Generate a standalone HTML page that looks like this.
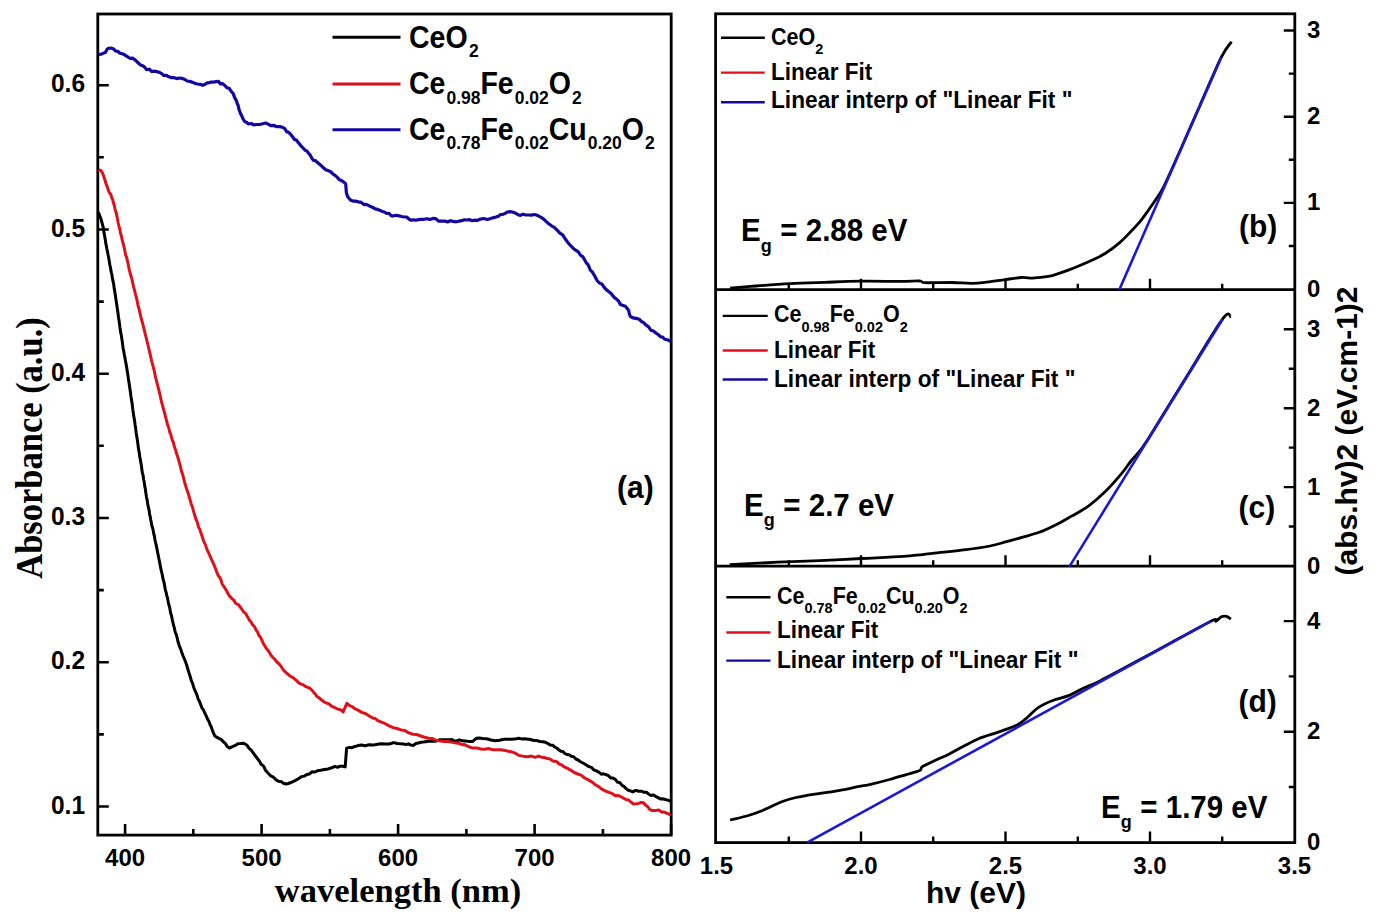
<!DOCTYPE html>
<html><head><meta charset="utf-8"><style>
html,body{margin:0;padding:0;background:#fff;width:1386px;height:915px;overflow:hidden}
svg{display:block}
text{fill:#000}
</style></head><body>
<svg width="1386" height="915" viewBox="0 0 1386 915">
<rect width="1386" height="915" fill="#fff"/>
<path d="M125.1,835.1 V824.1 M193.3,835.1 V829.1 M261.6,835.1 V824.1 M329.9,835.1 V829.1 M398.1,835.1 V824.1 M466.4,835.1 V829.1 M534.6,835.1 V824.1 M602.9,835.1 V829.1 M671.1,835.1 V824.1 M97.8,806.5 H108.8 M97.8,734.4 H103.8 M97.8,662.2 H108.8 M97.8,590.1 H103.8 M97.8,518.0 H108.8 M97.8,445.8 H103.8 M97.8,373.7 H108.8 M97.8,301.6 H103.8 M97.8,229.5 H108.8 M97.8,157.3 H103.8 M97.8,85.2 H108.8" stroke="#000" stroke-width="2.6" fill="none"/>
<rect x="97.8" y="14.0" width="573.4000000000001" height="821.1" fill="none" stroke="#000" stroke-width="2.8"/>
<path d="M97.8,212.0 L99.1,213.9 L100.2,216.9 L101.0,219.1 L101.9,222.4 L102.7,225.5 L103.3,227.6 L103.7,230.2 L104.1,233.7 L104.6,235.7 L105.3,239.8 L105.8,243.6 L106.3,245.5 L106.9,249.1 L107.5,251.6 L108.1,255.1 L108.7,257.5 L109.3,261.5 L109.9,265.0 L110.4,267.3 L110.9,270.4 L111.4,272.9 L111.9,274.4 L112.3,277.9 L112.8,280.1 L113.2,282.2 L113.7,284.4 L114.2,288.6 L114.7,291.1 L115.3,295.0 L115.9,299.1 L116.5,303.0 L117.2,307.9 L117.8,311.8 L118.5,317.3 L119.2,321.6 L119.9,327.3 L120.6,331.9 L121.3,335.2 L121.9,339.4 L122.5,343.4 L123.1,348.3 L123.7,350.9 L124.3,354.6 L124.9,357.4 L125.5,361.0 L126.1,364.1 L126.7,367.5 L127.3,371.4 L127.9,375.1 L128.5,379.6 L129.1,383.3 L129.8,387.9 L130.4,392.1 L131.0,396.7 L131.6,400.5 L132.2,404.0 L132.8,409.4 L133.4,413.7 L134.0,417.5 L134.6,420.9 L135.1,424.9 L135.6,427.7 L136.1,432.4 L136.6,435.5 L137.1,438.6 L137.6,441.7 L138.2,446.5 L138.7,450.1 L139.2,452.1 L139.7,456.7 L140.3,459.4 L140.8,462.3 L141.4,465.7 L141.9,469.7 L142.4,473.1 L143.0,475.0 L143.6,479.2 L144.1,481.5 L144.7,485.9 L145.3,488.8 L145.9,493.3 L146.5,497.1 L147.2,500.1 L147.8,504.6 L148.4,507.2 L149.1,510.3 L149.6,514.4 L150.2,516.5 L150.7,519.5 L151.2,522.1 L151.9,525.9 L152.5,527.6 L153.1,530.0 L153.9,534.6 L154.4,535.9 L154.9,539.5 L155.5,542.3 L156.1,544.6 L156.8,548.1 L157.5,551.6 L158.2,555.3 L158.9,558.8 L159.6,562.3 L160.3,565.8 L161.0,569.7 L161.7,572.3 L162.4,575.5 L163.1,579.3 L163.9,581.9 L164.6,585.4 L165.3,589.8 L166.1,592.3 L166.8,595.6 L167.5,597.9 L168.2,601.7 L168.9,605.0 L169.6,607.1 L170.3,611.1 L170.9,614.1 L171.6,616.1 L172.3,619.8 L172.9,622.3 L173.5,625.3 L174.2,627.3 L174.8,630.3 L175.4,632.7 L176.0,633.7 L177.1,637.7 L178.2,642.3 L179.4,646.2 L180.5,648.5 L181.7,652.2 L182.9,655.6 L184.1,658.2 L185.3,661.3 L186.4,664.3 L187.4,667.5 L188.4,671.0 L189.3,673.7 L190.3,677.0 L191.3,680.7 L192.4,682.8 L193.6,686.9 L194.9,690.4 L196.1,692.9 L197.2,695.7 L198.2,699.2 L199.1,700.6 L200.0,702.7 L201.0,705.4 L202.1,708.2 L203.4,709.9 L204.8,713.0 L206.2,715.8 L207.7,719.4 L209.0,721.5 L210.2,725.0 L211.3,727.0 L212.4,730.2 L213.6,733.4 L214.9,736.0 L216.4,737.0 L218.9,738.4 L221.3,739.6 L223.5,742.0 L225.4,743.4 L227.1,746.4 L229.2,748.0 L231.7,747.0 L234.2,745.8 L235.9,745.1 L237.8,743.7 L240.7,743.6 L243.0,743.3 L245.5,744.1 L247.3,745.7 L249.1,748.4 L251.0,749.9 L253.0,752.6 L255.1,755.5 L257.4,758.5 L259.9,761.9 L261.2,764.5 L262.5,765.1 L263.9,766.7 L265.3,769.9 L268.0,773.0 L270.6,775.8 L273.4,777.2 L276.1,779.9 L278.8,781.5 L281.3,781.6 L283.4,783.3 L286.0,784.0 L288.3,783.5 L291.1,782.5 L293.5,781.3 L296.1,780.1 L298.8,778.4 L301.6,776.6 L304.3,776.1 L306.9,774.5 L309.3,774.1 L311.8,771.8 L314.5,772.1 L317.4,770.8 L320.7,770.3 L324.4,769.5 L328.2,768.9 L331.8,767.8 L334.9,766.4 L337.6,767.3 L340.0,766.2 L343.1,766.3 L345.2,766.9 L346.6,748.2 L349.4,747.4 L351.9,747.7 L354.9,746.5 L358.1,745.6 L361.4,745.0 L365.1,745.7 L369.1,744.8 L373.3,745.1 L377.4,744.2 L381.4,743.7 L385.5,743.9 L389.6,744.0 L393.6,742.6 L397.3,743.5 L400.6,743.8 L403.4,744.0 L406.0,744.6 L408.4,743.8 L410.9,745.1 L413.5,745.4 L415.9,743.5 L418.3,743.1 L420.9,742.3 L423.7,742.0 L427.0,741.4 L430.9,741.1 L435.2,741.3 L439.4,739.8 L443.3,739.8 L446.6,739.7 L449.4,739.7 L452.0,739.5 L454.4,741.0 L456.8,740.9 L459.4,739.8 L462.2,740.8 L465.1,741.0 L467.7,741.3 L470.2,741.5 L472.7,741.5 L474.5,739.7 L476.6,738.3 L479.2,737.9 L482.7,738.5 L486.7,738.7 L491.0,740.0 L495.3,740.7 L499.5,740.2 L503.9,739.3 L506.1,739.2 L508.4,739.2 L510.6,739.3 L514.8,739.1 L518.5,738.2 L521.6,738.9 L524.2,738.8 L526.5,738.9 L528.8,739.2 L531.3,739.8 L534.1,740.5 L537.0,740.6 L540.0,741.5 L542.8,741.8 L545.5,742.2 L548.0,743.6 L550.3,745.0 L552.6,745.2 L554.8,747.0 L556.9,748.2 L559.0,750.0 L560.9,751.3 L562.9,751.5 L564.8,753.5 L566.9,754.5 L569.1,754.7 L571.3,756.2 L573.6,756.7 L575.9,759.0 L578.2,760.0 L580.5,761.7 L582.9,763.0 L585.2,764.3 L587.5,765.8 L589.6,766.9 L591.4,767.4 L593.9,770.0 L596.3,770.7 L599.1,772.4 L601.3,774.2 L603.6,773.8 L606.0,774.6 L608.3,775.5 L610.6,777.9 L613.0,778.1 L615.3,779.4 L617.6,782.2 L619.8,782.6 L622.0,785.2 L624.0,786.5 L625.9,788.4 L627.9,790.1 L629.8,790.7 L632.8,791.9 L635.7,790.4 L638.7,791.3 L641.9,791.3 L644.1,792.3 L646.4,792.2 L648.7,794.2 L651.0,795.5 L653.3,794.9 L655.6,796.3 L658.1,797.6 L660.4,798.9 L662.5,798.8 L665.3,799.5 L667.8,800.1 L670.2,801.0 L670.6,800.9" stroke="#000" stroke-width="3.0" fill="none" stroke-linejoin="round"/>
<path d="M98.5,169.6 L100.8,170.4 L102.3,172.7 L103.4,175.3 L104.5,178.8 L105.4,181.5 L106.4,185.0 L107.3,186.6 L108.1,189.6 L109.2,192.4 L110.7,194.3 L111.8,197.9 L112.6,199.3 L113.5,203.0 L114.5,206.4 L115.1,209.1 L115.7,211.5 L116.3,213.1 L116.9,216.1 L117.5,219.0 L118.2,223.0 L118.9,225.9 L119.6,228.3 L120.4,232.8 L121.3,235.5 L122.2,240.2 L123.2,243.6 L124.3,248.0 L125.5,254.2 L126.8,258.2 L128.0,263.4 L129.3,269.9 L130.7,275.0 L132.0,279.4 L133.3,285.7 L134.5,290.1 L135.7,295.2 L136.8,299.1 L137.9,304.9 L139.1,309.1 L140.2,314.2 L141.3,318.8 L142.5,322.8 L143.8,328.2 L145.1,333.5 L146.6,339.4 L148.2,346.0 L150.0,353.7 L151.9,362.1 L153.9,369.3 L155.9,378.7 L157.9,386.4 L159.9,394.4 L161.7,402.7 L163.5,409.0 L165.0,414.7 L166.4,420.1 L167.6,424.8 L168.7,427.5 L169.7,432.3 L170.6,433.7 L171.6,437.8 L172.5,440.7 L173.4,442.3 L174.4,446.8 L175.5,449.7 L176.7,454.0 L177.8,457.1 L179.0,461.4 L180.3,465.9 L181.5,471.4 L182.7,474.5 L184.0,479.8 L185.2,484.3 L186.5,488.5 L187.7,491.7 L188.9,495.7 L190.1,499.9 L191.3,504.2 L192.5,507.1 L193.7,511.9 L194.9,515.8 L196.1,519.7 L197.3,522.2 L198.6,527.3 L199.9,529.6 L201.2,533.7 L202.6,537.8 L204.0,541.9 L205.4,544.6 L206.8,549.1 L208.2,552.0 L209.6,555.1 L211.1,558.5 L212.5,561.6 L213.9,564.6 L215.3,567.9 L216.7,571.8 L218.1,575.4 L219.5,577.0 L220.9,579.7 L222.2,584.0 L223.6,586.0 L225.1,588.4 L226.5,590.6 L227.9,593.5 L229.4,596.0 L230.9,597.3 L232.4,599.1 L234.0,600.3 L235.5,603.2 L238.6,604.9 L241.3,608.5 L243.7,612.0 L245.8,613.6 L247.6,617.1 L249.3,620.0 L251.0,622.0 L252.7,624.9 L254.4,626.5 L256.0,629.8 L257.6,632.0 L259.0,635.6 L260.3,636.9 L261.8,640.0 L263.2,643.4 L264.9,646.0 L266.3,648.4 L267.7,649.9 L269.3,652.3 L271.0,655.2 L272.8,657.2 L274.8,659.3 L276.9,662.0 L279.2,664.0 L281.3,666.7 L283.3,669.8 L285.0,671.6 L287.1,673.4 L289.3,675.4 L291.1,676.6 L293.3,677.9 L295.8,679.9 L298.3,682.4 L300.8,684.1 L303.0,684.6 L305.6,686.6 L307.9,687.4 L310.0,688.4 L312.3,690.5 L313.7,692.5 L315.2,693.8 L316.8,696.4 L318.7,697.5 L321.0,699.5 L323.6,701.6 L326.3,703.0 L329.1,703.9 L331.8,706.4 L334.6,707.5 L337.7,709.1 L340.6,709.7 L343.1,711.9 L346.9,703.4 L349.7,705.6 L352.2,706.7 L355.2,708.9 L358.4,710.4 L361.7,712.4 L365.4,713.5 L369.3,716.0 L371.3,717.2 L373.4,718.3 L375.4,718.6 L377.4,720.3 L381.4,722.2 L385.3,723.7 L389.2,725.9 L393.1,727.6 L397.0,728.5 L401.0,729.9 L404.9,730.6 L408.8,732.9 L412.8,734.2 L416.7,734.5 L420.7,736.0 L424.6,737.2 L428.5,738.3 L432.5,738.5 L436.4,740.4 L440.4,740.9 L444.5,741.6 L448.7,741.6 L452.7,742.4 L456.4,743.1 L459.6,743.6 L462.3,744.7 L464.6,744.6 L467.0,745.8 L469.7,747.1 L472.9,748.1 L476.6,747.9 L480.7,749.0 L484.8,749.2 L488.9,748.6 L492.9,749.7 L496.9,749.7 L501.0,749.8 L504.9,750.4 L508.4,751.3 L511.4,751.8 L513.8,752.6 L515.8,753.4 L518.9,755.4 L521.4,755.9 L524.5,756.6 L527.9,756.7 L531.5,756.1 L535.1,757.3 L538.4,756.1 L541.5,757.2 L544.4,757.6 L547.3,758.5 L550.0,758.9 L552.6,760.9 L555.0,761.3 L557.1,761.9 L559.2,764.1 L561.4,764.7 L564.0,766.9 L567.1,768.1 L570.6,770.1 L574.2,772.5 L577.8,774.0 L581.1,775.2 L584.1,777.6 L586.9,779.2 L589.6,780.6 L592.3,782.2 L595.3,784.8 L598.6,786.6 L602.0,789.2 L605.6,791.1 L609.0,792.4 L612.3,793.6 L615.4,795.8 L618.5,795.6 L621.4,796.9 L624.1,798.6 L626.5,799.7 L628.6,800.0 L631.2,802.3 L633.5,803.9 L636.0,803.7 L638.6,803.4 L641.2,802.4 L643.6,802.7 L645.7,805.3 L647.7,806.7 L649.9,809.7 L652.5,810.6 L655.5,810.4 L658.7,810.1 L661.7,812.0 L664.0,812.1 L666.3,813.0 L668.4,813.8 L670.6,815.1" stroke="#e0101a" stroke-width="3.0" fill="none" stroke-linejoin="round"/>
<path d="M98.6,54.5 L101.4,54.1 L103.7,53.1 L105.4,52.5 L107.1,49.1 L108.8,48.3 L111.2,48.0 L113.6,48.9 L115.7,51.2 L117.8,51.3 L119.9,53.2 L122.3,53.7 L124.6,54.8 L127.0,56.4 L129.8,58.3 L132.5,58.1 L135.1,59.9 L137.8,62.5 L140.4,64.9 L142.7,65.8 L144.6,67.1 L146.7,69.7 L149.4,69.2 L151.7,71.6 L154.2,71.2 L156.7,71.6 L159.0,72.2 L161.7,73.6 L163.8,75.5 L166.4,75.3 L168.8,76.8 L171.4,77.6 L174.1,77.7 L176.7,78.6 L179.3,78.0 L181.9,78.4 L184.5,79.2 L187.1,81.0 L189.7,81.4 L192.2,82.1 L194.9,83.4 L197.5,84.0 L200.2,84.3 L202.6,85.3 L204.8,84.6 L206.9,82.9 L209.0,82.8 L211.2,82.1 L213.3,82.2 L216.2,81.7 L218.4,81.4 L220.5,83.9 L222.7,83.6 L224.9,85.6 L227.1,87.8 L229.2,88.4 L231.2,91.4 L233.1,93.3 L234.3,96.6 L235.4,99.0 L236.4,100.8 L237.3,103.9 L238.2,105.5 L238.9,109.1 L239.8,111.5 L240.7,113.9 L241.7,115.7 L242.8,118.5 L244.6,121.3 L246.5,122.3 L248.5,124.0 L251.3,123.5 L253.7,124.9 L256.6,124.5 L259.7,124.5 L262.8,123.7 L265.6,123.0 L268.2,124.1 L270.7,125.7 L273.5,125.3 L276.6,126.7 L279.8,126.6 L282.6,127.3 L284.6,128.4 L286.8,131.8 L288.7,132.4 L291.1,134.9 L292.8,137.0 L294.6,139.7 L296.4,140.0 L298.2,142.5 L299.9,144.4 L301.7,146.7 L303.4,148.3 L305.1,150.2 L306.9,150.9 L308.6,153.2 L310.3,155.3 L312.0,158.4 L313.7,160.5 L315.5,160.6 L317.2,162.3 L319.0,163.8 L320.7,165.2 L323.3,167.7 L325.8,169.7 L328.4,170.7 L331.0,171.9 L332.9,174.0 L335.0,175.4 L337.3,177.4 L339.4,179.7 L341.2,180.5 L343.2,181.6 L345.1,183.3 L345.7,184.0 L346.4,192.8 L347.6,196.5 L349.0,198.4 L350.7,200.2 L352.9,201.1 L355.6,201.1 L358.5,201.9 L361.3,202.4 L364.3,204.7 L366.3,204.4 L368.4,205.4 L370.6,206.6 L372.8,207.5 L375.2,208.9 L377.5,209.4 L379.8,210.3 L382.2,211.4 L384.4,212.1 L386.7,213.4 L389.0,213.4 L391.4,215.8 L393.8,215.8 L396.4,215.3 L399.1,215.9 L401.7,216.5 L404.3,217.0 L406.7,217.0 L409.0,219.2 L411.2,220.2 L413.5,219.8 L415.8,220.3 L418.4,219.6 L421.2,219.3 L424.1,219.3 L427.1,218.7 L430.0,219.5 L432.9,218.4 L435.8,218.6 L438.8,221.2 L441.7,221.2 L444.6,221.0 L447.5,221.9 L450.4,220.7 L453.3,221.4 L456.2,221.8 L459.0,221.2 L461.8,220.7 L464.4,219.8 L466.9,220.0 L469.4,219.6 L472.1,220.7 L474.8,220.1 L477.7,220.3 L480.6,219.1 L483.6,218.5 L486.4,219.3 L489.0,219.1 L491.5,218.3 L493.8,217.6 L496.1,217.0 L498.4,216.2 L500.6,214.5 L502.9,214.4 L505.1,213.4 L507.2,212.1 L510.3,211.6 L513.0,212.3 L515.4,213.1 L518.1,214.7 L520.4,215.4 L523.0,214.2 L525.9,215.0 L528.8,215.0 L531.6,215.1 L534.1,214.5 L536.5,215.0 L538.8,216.1 L541.1,217.4 L543.4,218.9 L546.0,221.4 L548.7,223.8 L551.5,225.8 L554.3,227.3 L557.1,230.1 L559.9,233.1 L562.7,234.8 L565.5,239.3 L568.3,243.1 L571.0,246.0 L573.6,248.7 L576.0,250.4 L578.3,251.9 L580.6,255.3 L582.9,256.9 L585.3,261.0 L586.5,263.2 L587.6,264.0 L588.8,266.2 L590.0,269.4 L591.2,271.1 L592.4,272.1 L593.5,274.0 L594.7,275.9 L597.1,280.6 L599.4,283.0 L601.8,283.9 L604.2,287.4 L606.5,289.9 L608.9,291.7 L611.4,293.8 L613.8,297.0 L616.2,298.9 L618.5,301.0 L620.5,304.6 L623.1,305.5 L625.4,306.3 L627.4,308.8 L628.7,310.6 L629.3,313.7 L630.0,315.8 L631.3,317.1 L634.0,318.2 L636.4,318.4 L639.2,319.2 L641.3,321.4 L643.6,322.7 L646.1,325.2 L648.6,326.8 L651.0,330.3 L653.4,331.0 L655.9,332.9 L658.4,334.8 L660.7,336.9 L662.8,337.2 L664.7,339.3 L667.4,339.8 L669.6,340.9 L670.6,341.3" stroke="#1208a0" stroke-width="3.2" fill="none" stroke-linejoin="round"/>
<g transform="translate(125.10,866.00) scale(1.0,1.03)"><text x="0" y="0" font-family="Liberation Sans, sans-serif" font-weight="bold" font-size="24" text-anchor="middle">400</text></g>
<g transform="translate(261.60,866.00) scale(1.0,1.03)"><text x="0" y="0" font-family="Liberation Sans, sans-serif" font-weight="bold" font-size="24" text-anchor="middle">500</text></g>
<g transform="translate(398.10,866.00) scale(1.0,1.03)"><text x="0" y="0" font-family="Liberation Sans, sans-serif" font-weight="bold" font-size="24" text-anchor="middle">600</text></g>
<g transform="translate(534.60,866.00) scale(1.0,1.03)"><text x="0" y="0" font-family="Liberation Sans, sans-serif" font-weight="bold" font-size="24" text-anchor="middle">700</text></g>
<g transform="translate(671.10,866.00) scale(1.0,1.03)"><text x="0" y="0" font-family="Liberation Sans, sans-serif" font-weight="bold" font-size="24" text-anchor="middle">800</text></g>
<g transform="translate(85.00,813.70) scale(1.0,1.05)"><text x="0" y="0" font-family="Liberation Sans, sans-serif" font-weight="bold" font-size="24.5" text-anchor="end">0.1</text></g>
<g transform="translate(85.00,669.44) scale(1.0,1.05)"><text x="0" y="0" font-family="Liberation Sans, sans-serif" font-weight="bold" font-size="24.5" text-anchor="end">0.2</text></g>
<g transform="translate(85.00,525.18) scale(1.0,1.05)"><text x="0" y="0" font-family="Liberation Sans, sans-serif" font-weight="bold" font-size="24.5" text-anchor="end">0.3</text></g>
<g transform="translate(85.00,380.92) scale(1.0,1.05)"><text x="0" y="0" font-family="Liberation Sans, sans-serif" font-weight="bold" font-size="24.5" text-anchor="end">0.4</text></g>
<g transform="translate(85.00,236.66) scale(1.0,1.05)"><text x="0" y="0" font-family="Liberation Sans, sans-serif" font-weight="bold" font-size="24.5" text-anchor="end">0.5</text></g>
<g transform="translate(85.00,92.40) scale(1.0,1.05)"><text x="0" y="0" font-family="Liberation Sans, sans-serif" font-weight="bold" font-size="24.5" text-anchor="end">0.6</text></g>
<g transform="translate(398.00,901.50)"><text x="0" y="0" font-family="Liberation Serif, serif" font-weight="bold" font-size="34.5" text-anchor="middle">wavelength (nm)</text></g>
<g transform="translate(41.50,448.00) rotate(-90) scale(1.0,1.07)"><text x="0" y="0" font-family="Liberation Serif, serif" font-weight="bold" font-size="34.5" text-anchor="middle">Absorbance (a.u.)</text></g>
<path d="M332.5,37.3 H400.5" stroke="#000" stroke-width="3"/>
<path d="M332.5,84 H400.5" stroke="#e0101a" stroke-width="3"/>
<path d="M332.5,129.7 H400.5" stroke="#1208a0" stroke-width="3"/>
<g transform="translate(409.00,47.50) scale(1.0,1.07)"><text x="0" y="0" font-family="Liberation Sans, sans-serif" font-weight="bold" font-size="28.5" text-anchor="start"><tspan>CeO</tspan><tspan dx="1.5" dy="9.3" font-size="17.5">2</tspan></text></g>
<g transform="translate(409.00,94.20) scale(1.0,1.07)"><text x="0" y="0" font-family="Liberation Sans, sans-serif" font-weight="bold" font-size="28.5" text-anchor="start"><tspan>Ce</tspan><tspan dx="1" dy="9.3" font-size="17.5">0.98</tspan><tspan dy="-9.3">Fe</tspan><tspan dx="1" dy="9.3" font-size="17.5">0.02</tspan><tspan dy="-9.3">O</tspan><tspan dx="1" dy="9.3" font-size="17.5">2</tspan></text></g>
<g transform="translate(409.00,139.50) scale(1.0,1.07)"><text x="0" y="0" font-family="Liberation Sans, sans-serif" font-weight="bold" font-size="28.5" text-anchor="start"><tspan>Ce</tspan><tspan dx="1" dy="9.3" font-size="17.5">0.78</tspan><tspan dy="-9.3">Fe</tspan><tspan dx="1" dy="9.3" font-size="17.5">0.02</tspan><tspan dy="-9.3">Cu</tspan><tspan dx="1" dy="9.3" font-size="17.5">0.20</tspan><tspan dy="-9.3">O</tspan><tspan dx="1" dy="9.3" font-size="17.5">2</tspan></text></g>
<g transform="translate(617.00,497.50) scale(1.0,1.04)"><text x="0" y="0" font-family="Liberation Sans, sans-serif" font-weight="bold" font-size="30" text-anchor="start">(a)</text></g>
<path d="M788.8,289.7 V283.7 M861.0,289.7 V278.7 M933.2,289.7 V283.7 M1005.5,289.7 V278.7 M1077.8,289.7 V283.7 M1150.0,289.7 V278.7 M1222.2,289.7 V283.7 M788.8,566.2 V560.2 M861.0,566.2 V555.2 M933.2,566.2 V560.2 M1005.5,566.2 V555.2 M1077.8,566.2 V560.2 M1150.0,566.2 V555.2 M1222.2,566.2 V560.2 M788.8,842.6 V836.6 M861.0,842.6 V831.6 M933.2,842.6 V836.6 M1005.5,842.6 V831.6 M1077.8,842.6 V836.6 M1150.0,842.6 V831.6 M1222.2,842.6 V836.6 M1294.8,246.0 H1288.8 M1294.8,202.9 H1283.8 M1294.8,159.8 H1288.8 M1294.8,116.7 H1283.8 M1294.8,73.6 H1288.8 M1294.8,30.5 H1283.8 M1294.8,526.5 H1288.8 M1294.8,487.1 H1283.8 M1294.8,447.6 H1288.8 M1294.8,408.2 H1283.8 M1294.8,368.8 H1288.8 M1294.8,329.3 H1283.8 M1294.8,787.0 H1288.8 M1294.8,731.7 H1283.8 M1294.8,676.4 H1288.8 M1294.8,621.1 H1283.8" stroke="#000" stroke-width="2.4" fill="none"/>
<rect x="715.6" y="13.8" width="579.1999999999999" height="828.8000000000001" fill="none" stroke="#000" stroke-width="2.8"/>
<path d="M715.6,289.7 H1294.8 M715.6,566.2 H1294.8" stroke="#000" stroke-width="2.8"/>
<path d="M730.1,288.1 C734.4,287.8 746.1,286.8 756.1,286.0 C766.1,285.2 779.0,284.2 790.4,283.6 C801.8,283.0 813.1,282.7 824.7,282.3 C836.4,281.9 847.8,281.4 860.3,281.2 C872.8,281.0 890.1,281.4 900.0,281.4 C909.9,281.4 915.3,280.8 919.5,281.0 C923.7,281.2 919.6,282.4 925.0,282.7 C930.4,282.9 944.2,282.4 952.0,282.5 C959.8,282.6 965.8,283.4 971.6,283.3 C977.4,283.2 981.2,282.7 986.6,282.1 C992.0,281.5 998.1,280.6 1003.9,279.8 C1009.7,279.0 1016.4,277.8 1021.2,277.5 C1026.0,277.2 1029.0,278.2 1032.8,278.1 C1036.6,278.0 1040.9,277.4 1044.3,276.9 C1047.7,276.4 1049.4,276.3 1053.1,275.3 C1056.8,274.3 1061.8,272.5 1066.2,270.9 C1070.6,269.3 1074.9,267.5 1079.3,265.7 C1083.7,263.9 1088.0,262.1 1092.4,260.0 C1096.8,257.9 1100.9,256.2 1105.5,253.3 C1110.1,250.4 1115.8,246.0 1120.0,242.4 C1124.2,238.8 1126.9,235.6 1130.4,232.0 C1133.9,228.4 1137.7,224.4 1140.8,220.6 C1143.9,216.8 1146.5,212.8 1149.1,209.2 C1151.7,205.6 1153.9,202.5 1156.3,198.8 C1158.7,195.1 1159.6,195.0 1163.6,187.0 C1167.5,179.0 1173.9,164.4 1180.0,150.8 C1186.1,137.2 1193.1,120.8 1200.0,105.2 C1206.9,89.6 1216.0,68.0 1221.2,57.4 C1226.5,46.8 1229.8,44.4 1231.5,41.8" stroke="#000" stroke-width="2.8" fill="none" stroke-linejoin="round"/>
<path d="M1119.2,289.9 L1221.2,57.4" stroke="#1a1ad0" stroke-width="2.6" fill="none"/>
<path d="M729.6,564.7 C737.6,564.3 762.8,562.9 777.8,562.2 C792.8,561.5 805.7,561.2 819.6,560.6 C833.5,560.0 847.5,559.2 861.4,558.5 C875.3,557.8 892.8,557.1 903.3,556.4 C913.8,555.7 913.7,555.4 924.2,554.3 C934.7,553.2 955.1,551.1 966.1,549.7 C977.1,548.3 983.3,547.3 990.0,546.0 C996.7,544.7 1000.9,543.2 1006.4,541.7 C1011.9,540.2 1017.3,538.8 1022.8,537.2 C1028.3,535.6 1033.7,534.3 1039.2,532.3 C1044.7,530.2 1050.1,527.6 1055.6,524.9 C1061.1,522.2 1066.5,519.0 1072.0,515.9 C1077.5,512.8 1082.9,510.1 1088.4,506.1 C1093.9,502.1 1099.3,497.4 1104.8,492.1 C1110.2,486.8 1116.7,479.3 1121.1,474.1 C1125.5,468.9 1127.7,465.1 1131.0,461.0 C1134.3,456.9 1137.6,453.7 1140.8,449.5 C1144.0,445.3 1142.6,447.7 1150.0,436.0 C1157.4,424.3 1172.9,398.7 1185.0,379.2 C1197.1,359.7 1214.8,329.6 1222.5,319.2 C1230.2,308.8 1229.5,317.2 1230.9,316.8" stroke="#000" stroke-width="2.8" fill="none" stroke-linejoin="round"/>
<path d="M1069.4,566.6 L1222.5,319.2" stroke="#1a1ad0" stroke-width="2.6" fill="none"/>
<path d="M730.1,820.0 C732.9,819.3 741.3,817.6 746.7,816.0 C752.1,814.4 756.8,812.9 762.6,810.5 C768.4,808.1 776.1,803.9 781.7,801.7 C787.3,799.5 790.7,798.7 796.0,797.5 C801.3,796.3 807.1,795.3 813.4,794.3 C819.7,793.3 826.6,792.7 834.0,791.4 C841.4,790.1 851.8,787.9 857.9,786.7 C864.0,785.5 865.3,785.5 870.6,784.3 C875.9,783.1 883.8,781.1 889.6,779.5 C895.4,777.9 900.5,776.3 905.5,774.8 C910.5,773.3 917.0,771.8 919.8,770.5 C922.6,769.2 919.6,768.5 922.1,766.8 C924.6,765.1 930.6,762.6 935.0,760.5 C939.4,758.4 943.7,756.7 948.4,754.4 C953.1,752.1 958.0,749.1 963.1,746.5 C968.2,743.9 973.4,740.9 979.1,738.5 C984.8,736.1 991.4,734.5 997.5,732.4 C1003.6,730.2 1011.2,727.9 1015.9,725.6 C1020.6,723.4 1022.0,721.9 1025.7,718.9 C1029.4,715.9 1033.4,710.9 1037.9,707.8 C1042.4,704.7 1047.6,702.5 1052.7,700.5 C1057.8,698.5 1063.5,697.6 1068.6,695.6 C1073.7,693.6 1078.1,690.7 1083.3,688.2 C1088.5,685.8 1090.5,685.7 1100.0,680.9 C1109.5,676.1 1126.7,666.8 1140.0,659.6 C1153.3,652.4 1167.9,644.4 1180.0,637.8 C1192.1,631.2 1206.8,623.0 1212.8,620.2 C1218.8,617.5 1214.6,621.8 1216.0,621.3 C1217.4,620.8 1219.3,617.8 1221.0,617.0 C1222.7,616.2 1224.8,616.0 1226.4,616.4 C1228.0,616.8 1230.1,618.6 1230.8,619.1" stroke="#000" stroke-width="2.8" fill="none" stroke-linejoin="round"/>
<path d="M807.0,842.6 L1210.6,621.3" stroke="#1a1ad0" stroke-width="2.6" fill="none"/>
<g transform="translate(716.50,874.00) scale(1.0,1.03)"><text x="0" y="0" font-family="Liberation Sans, sans-serif" font-weight="bold" font-size="24" text-anchor="middle">1.5</text></g>
<g transform="translate(861.00,874.00) scale(1.0,1.03)"><text x="0" y="0" font-family="Liberation Sans, sans-serif" font-weight="bold" font-size="24" text-anchor="middle">2.0</text></g>
<g transform="translate(1005.50,874.00) scale(1.0,1.03)"><text x="0" y="0" font-family="Liberation Sans, sans-serif" font-weight="bold" font-size="24" text-anchor="middle">2.5</text></g>
<g transform="translate(1150.00,874.00) scale(1.0,1.03)"><text x="0" y="0" font-family="Liberation Sans, sans-serif" font-weight="bold" font-size="24" text-anchor="middle">3.0</text></g>
<g transform="translate(1294.50,874.00) scale(1.0,1.03)"><text x="0" y="0" font-family="Liberation Sans, sans-serif" font-weight="bold" font-size="24" text-anchor="middle">3.5</text></g>
<g transform="translate(976.00,902.80)"><text x="0" y="0" font-family="Liberation Sans, sans-serif" font-weight="bold" font-size="30" text-anchor="middle">hv (eV)</text></g>
<g transform="translate(1307.00,38.00) scale(1.0,1.03)"><text x="0" y="0" font-family="Liberation Sans, sans-serif" font-weight="bold" font-size="24" text-anchor="start">3</text></g>
<g transform="translate(1307.00,124.20) scale(1.0,1.03)"><text x="0" y="0" font-family="Liberation Sans, sans-serif" font-weight="bold" font-size="24" text-anchor="start">2</text></g>
<g transform="translate(1307.00,210.40) scale(1.0,1.03)"><text x="0" y="0" font-family="Liberation Sans, sans-serif" font-weight="bold" font-size="24" text-anchor="start">1</text></g>
<g transform="translate(1307.00,296.60) scale(1.0,1.03)"><text x="0" y="0" font-family="Liberation Sans, sans-serif" font-weight="bold" font-size="24" text-anchor="start">0</text></g>
<g transform="translate(1307.00,336.80) scale(1.0,1.03)"><text x="0" y="0" font-family="Liberation Sans, sans-serif" font-weight="bold" font-size="24" text-anchor="start">3</text></g>
<g transform="translate(1307.00,415.70) scale(1.0,1.03)"><text x="0" y="0" font-family="Liberation Sans, sans-serif" font-weight="bold" font-size="24" text-anchor="start">2</text></g>
<g transform="translate(1307.00,494.60) scale(1.0,1.03)"><text x="0" y="0" font-family="Liberation Sans, sans-serif" font-weight="bold" font-size="24" text-anchor="start">1</text></g>
<g transform="translate(1307.00,573.50) scale(1.0,1.03)"><text x="0" y="0" font-family="Liberation Sans, sans-serif" font-weight="bold" font-size="24" text-anchor="start">0</text></g>
<g transform="translate(1307.00,628.60) scale(1.0,1.03)"><text x="0" y="0" font-family="Liberation Sans, sans-serif" font-weight="bold" font-size="24" text-anchor="start">4</text></g>
<g transform="translate(1307.00,739.20) scale(1.0,1.03)"><text x="0" y="0" font-family="Liberation Sans, sans-serif" font-weight="bold" font-size="24" text-anchor="start">2</text></g>
<g transform="translate(1307.00,849.80) scale(1.0,1.03)"><text x="0" y="0" font-family="Liberation Sans, sans-serif" font-weight="bold" font-size="24" text-anchor="start">0</text></g>
<g transform="translate(1357.00,431.00) rotate(-90)"><text x="0" y="0" font-family="Liberation Sans, sans-serif" font-weight="bold" font-size="30" text-anchor="middle">(abs.hv)2 (eV.cm-1)2</text></g>
<path d="M721,37.8 H764.8" stroke="#000" stroke-width="2.4"/>
<path d="M721,72.6 H764.8" stroke="#e0101a" stroke-width="2.4"/>
<path d="M721,102.2 H764.8" stroke="#1208a0" stroke-width="2.4"/>
<g transform="translate(771.00,44.60) scale(1.0,1.07)"><text x="0" y="0" font-family="Liberation Sans, sans-serif" font-weight="bold" font-size="21.5" text-anchor="start"><tspan>CeO</tspan><tspan dx="0" dy="8.7" font-size="14.5">2</tspan></text></g>
<g transform="translate(771.00,80.00) scale(1.0,1.07)"><text x="0" y="0" font-family="Liberation Sans, sans-serif" font-weight="bold" font-size="22.5" text-anchor="start">Linear Fit</text></g>
<g transform="translate(771.00,108.00) scale(1.0,1.07)"><text x="0" y="0" font-family="Liberation Sans, sans-serif" font-weight="bold" font-size="22.7" text-anchor="start">Linear interp of "Linear Fit "</text></g>
<path d="M722.7,315.9 H767.7" stroke="#000" stroke-width="2.4"/>
<path d="M722.7,350.5 H767.7" stroke="#e0101a" stroke-width="2.4"/>
<path d="M722.7,379.5 H767.7" stroke="#1208a0" stroke-width="2.4"/>
<g transform="translate(774.00,322.40) scale(1.0,1.07)"><text x="0" y="0" font-family="Liberation Sans, sans-serif" font-weight="bold" font-size="21.5" text-anchor="start"><tspan>Ce</tspan><tspan dx="0" dy="8.7" font-size="14.5">0.98</tspan><tspan dy="-8.7">Fe</tspan><tspan dx="0" dy="8.7" font-size="14.5">0.02</tspan><tspan dy="-8.7">O</tspan><tspan dx="0" dy="8.7" font-size="14.5">2</tspan></text></g>
<g transform="translate(774.00,357.50) scale(1.0,1.07)"><text x="0" y="0" font-family="Liberation Sans, sans-serif" font-weight="bold" font-size="22.5" text-anchor="start">Linear Fit</text></g>
<g transform="translate(774.00,386.50) scale(1.0,1.07)"><text x="0" y="0" font-family="Liberation Sans, sans-serif" font-weight="bold" font-size="22.7" text-anchor="start">Linear interp of "Linear Fit "</text></g>
<path d="M726.3,597.3 H770.5" stroke="#000" stroke-width="2.4"/>
<path d="M726.3,632.5 H770.5" stroke="#e0101a" stroke-width="2.4"/>
<path d="M726.3,660.6 H770.5" stroke="#1208a0" stroke-width="2.4"/>
<g transform="translate(777.00,603.80) scale(1.0,1.07)"><text x="0" y="0" font-family="Liberation Sans, sans-serif" font-weight="bold" font-size="21.5" text-anchor="start"><tspan>Ce</tspan><tspan dx="0" dy="8.7" font-size="14.5">0.78</tspan><tspan dy="-8.7">Fe</tspan><tspan dx="0" dy="8.7" font-size="14.5">0.02</tspan><tspan dy="-8.7">Cu</tspan><tspan dx="0" dy="8.7" font-size="14.5">0.20</tspan><tspan dy="-8.7">O</tspan><tspan dx="0" dy="8.7" font-size="14.5">2</tspan></text></g>
<g transform="translate(777.00,638.40) scale(1.0,1.07)"><text x="0" y="0" font-family="Liberation Sans, sans-serif" font-weight="bold" font-size="22.5" text-anchor="start">Linear Fit</text></g>
<g transform="translate(777.00,667.60) scale(1.0,1.07)"><text x="0" y="0" font-family="Liberation Sans, sans-serif" font-weight="bold" font-size="22.7" text-anchor="start">Linear interp of "Linear Fit "</text></g>
<g transform="translate(741.00,241.30) scale(1.0,1.07)"><text x="0" y="0" font-family="Liberation Sans, sans-serif" font-weight="bold" font-size="29.5" text-anchor="start">E<tspan dy="10" font-size="18">g</tspan><tspan dy="-10" dx="0.5"> = 2.88 eV</tspan></text></g>
<g transform="translate(744.00,515.50) scale(1.0,1.07)"><text x="0" y="0" font-family="Liberation Sans, sans-serif" font-weight="bold" font-size="29.5" text-anchor="start">E<tspan dy="10" font-size="18">g</tspan><tspan dy="-10" dx="0.5"> = 2.7 eV</tspan></text></g>
<g transform="translate(1101.00,817.50) scale(1.0,1.07)"><text x="0" y="0" font-family="Liberation Sans, sans-serif" font-weight="bold" font-size="29.5" text-anchor="start">E<tspan dy="10" font-size="18">g</tspan><tspan dy="-10" dx="0.5"> = 1.79 eV</tspan></text></g>
<g transform="translate(1239.00,237.00) scale(1.0,1.04)"><text x="0" y="0" font-family="Liberation Sans, sans-serif" font-weight="bold" font-size="30" text-anchor="start">(b)</text></g>
<g transform="translate(1238.50,518.00) scale(1.0,1.04)"><text x="0" y="0" font-family="Liberation Sans, sans-serif" font-weight="bold" font-size="30" text-anchor="start">(c)</text></g>
<g transform="translate(1238.50,711.50) scale(1.0,1.04)"><text x="0" y="0" font-family="Liberation Sans, sans-serif" font-weight="bold" font-size="30" text-anchor="start">(d)</text></g>
</svg>
</body></html>
